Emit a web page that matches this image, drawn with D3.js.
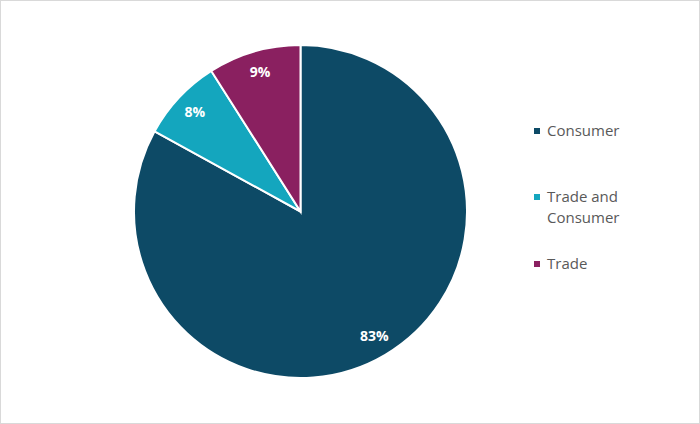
<!DOCTYPE html>
<html>
<head>
<meta charset="utf-8">
<script src="https://d3js.org/d3.v7.min.js"></script>
<style>
  body { margin: 0; background: #fff; }
  svg { display: block; font-family: "Open Sans", sans-serif; }
</style>
</head>
<body>
<script>
// chart data
var categories = ["Consumer", "Trade and Consumer", "Trade"];
var shares = [83, 8, 9];
var colors = ["#0d4a66", "#14a6be", "#8a2060"];
var legendLines = [["Consumer"], ["Trade and", "Consumer"], ["Trade"]];

var width = 700, height = 424;
var cx = 300.5, cy = 211.5, radius = 166.5;

var svg = d3.select("body").append("svg")
    .attr("width", width)
    .attr("height", height);

// outer frame
svg.append("rect")
    .attr("x", 0.5).attr("y", 0.5)
    .attr("width", width - 1).attr("height", height - 1)
    .attr("fill", "#fff")
    .attr("stroke", "#d9d9d9");

var data = categories.map(function(c, i) { return {name: c, value: shares[i], color: colors[i]}; });

var pie = d3.pie().sort(null).value(function(d) { return d.value; });
var arc = d3.arc().innerRadius(0).outerRadius(radius);
var labelArc = d3.arc().innerRadius(radius * 0.87).outerRadius(radius * 0.87);

var g = svg.append("g").attr("transform", "translate(" + cx + "," + cy + ")");

var arcs = pie(data);

g.selectAll("path")
    .data(arcs)
  .enter().append("path")
    .attr("d", arc)
    .attr("fill", function(d) { return d.data.color; })
    .attr("stroke", "#fff")
    .attr("stroke-width", 2);

g.selectAll("text")
    .data(arcs)
  .enter().append("text")
    .attr("transform", function(d) { return "translate(" + labelArc.centroid(d) + ")"; })
    .attr("text-anchor", "middle")
    .attr("dy", "0.35em")
    .attr("fill", "#fff")
    .style("font-size", "14px")
    .style("font-weight", "bold")
    .text(function(d) { return d.data.value + "%"; });

// legend
var legendY = [131, 197, 264];
var legend = svg.selectAll(".legend")
    .data(data)
  .enter().append("g")
    .attr("class", "legend")
    .attr("transform", function(d, i) { return "translate(534," + legendY[i] + ")"; });

legend.append("rect")
    .attr("x", 0).attr("y", -3)
    .attr("width", 6).attr("height", 6)
    .attr("fill", function(d) { return d.color; });

legend.append("text")
    .attr("x", 13)
    .attr("y", 0)
    .attr("fill", "#595959")
    .style("font-size", "15px")
    .each(function(d, i) {
      var t = d3.select(this);
      legendLines[i].forEach(function(line, j) {
        t.append("tspan")
          .attr("x", 13)
          .attr("dy", j === 0 ? "0.35em" : "21")
          .text(line);
      });
    });
</script>
</body>
</html>
